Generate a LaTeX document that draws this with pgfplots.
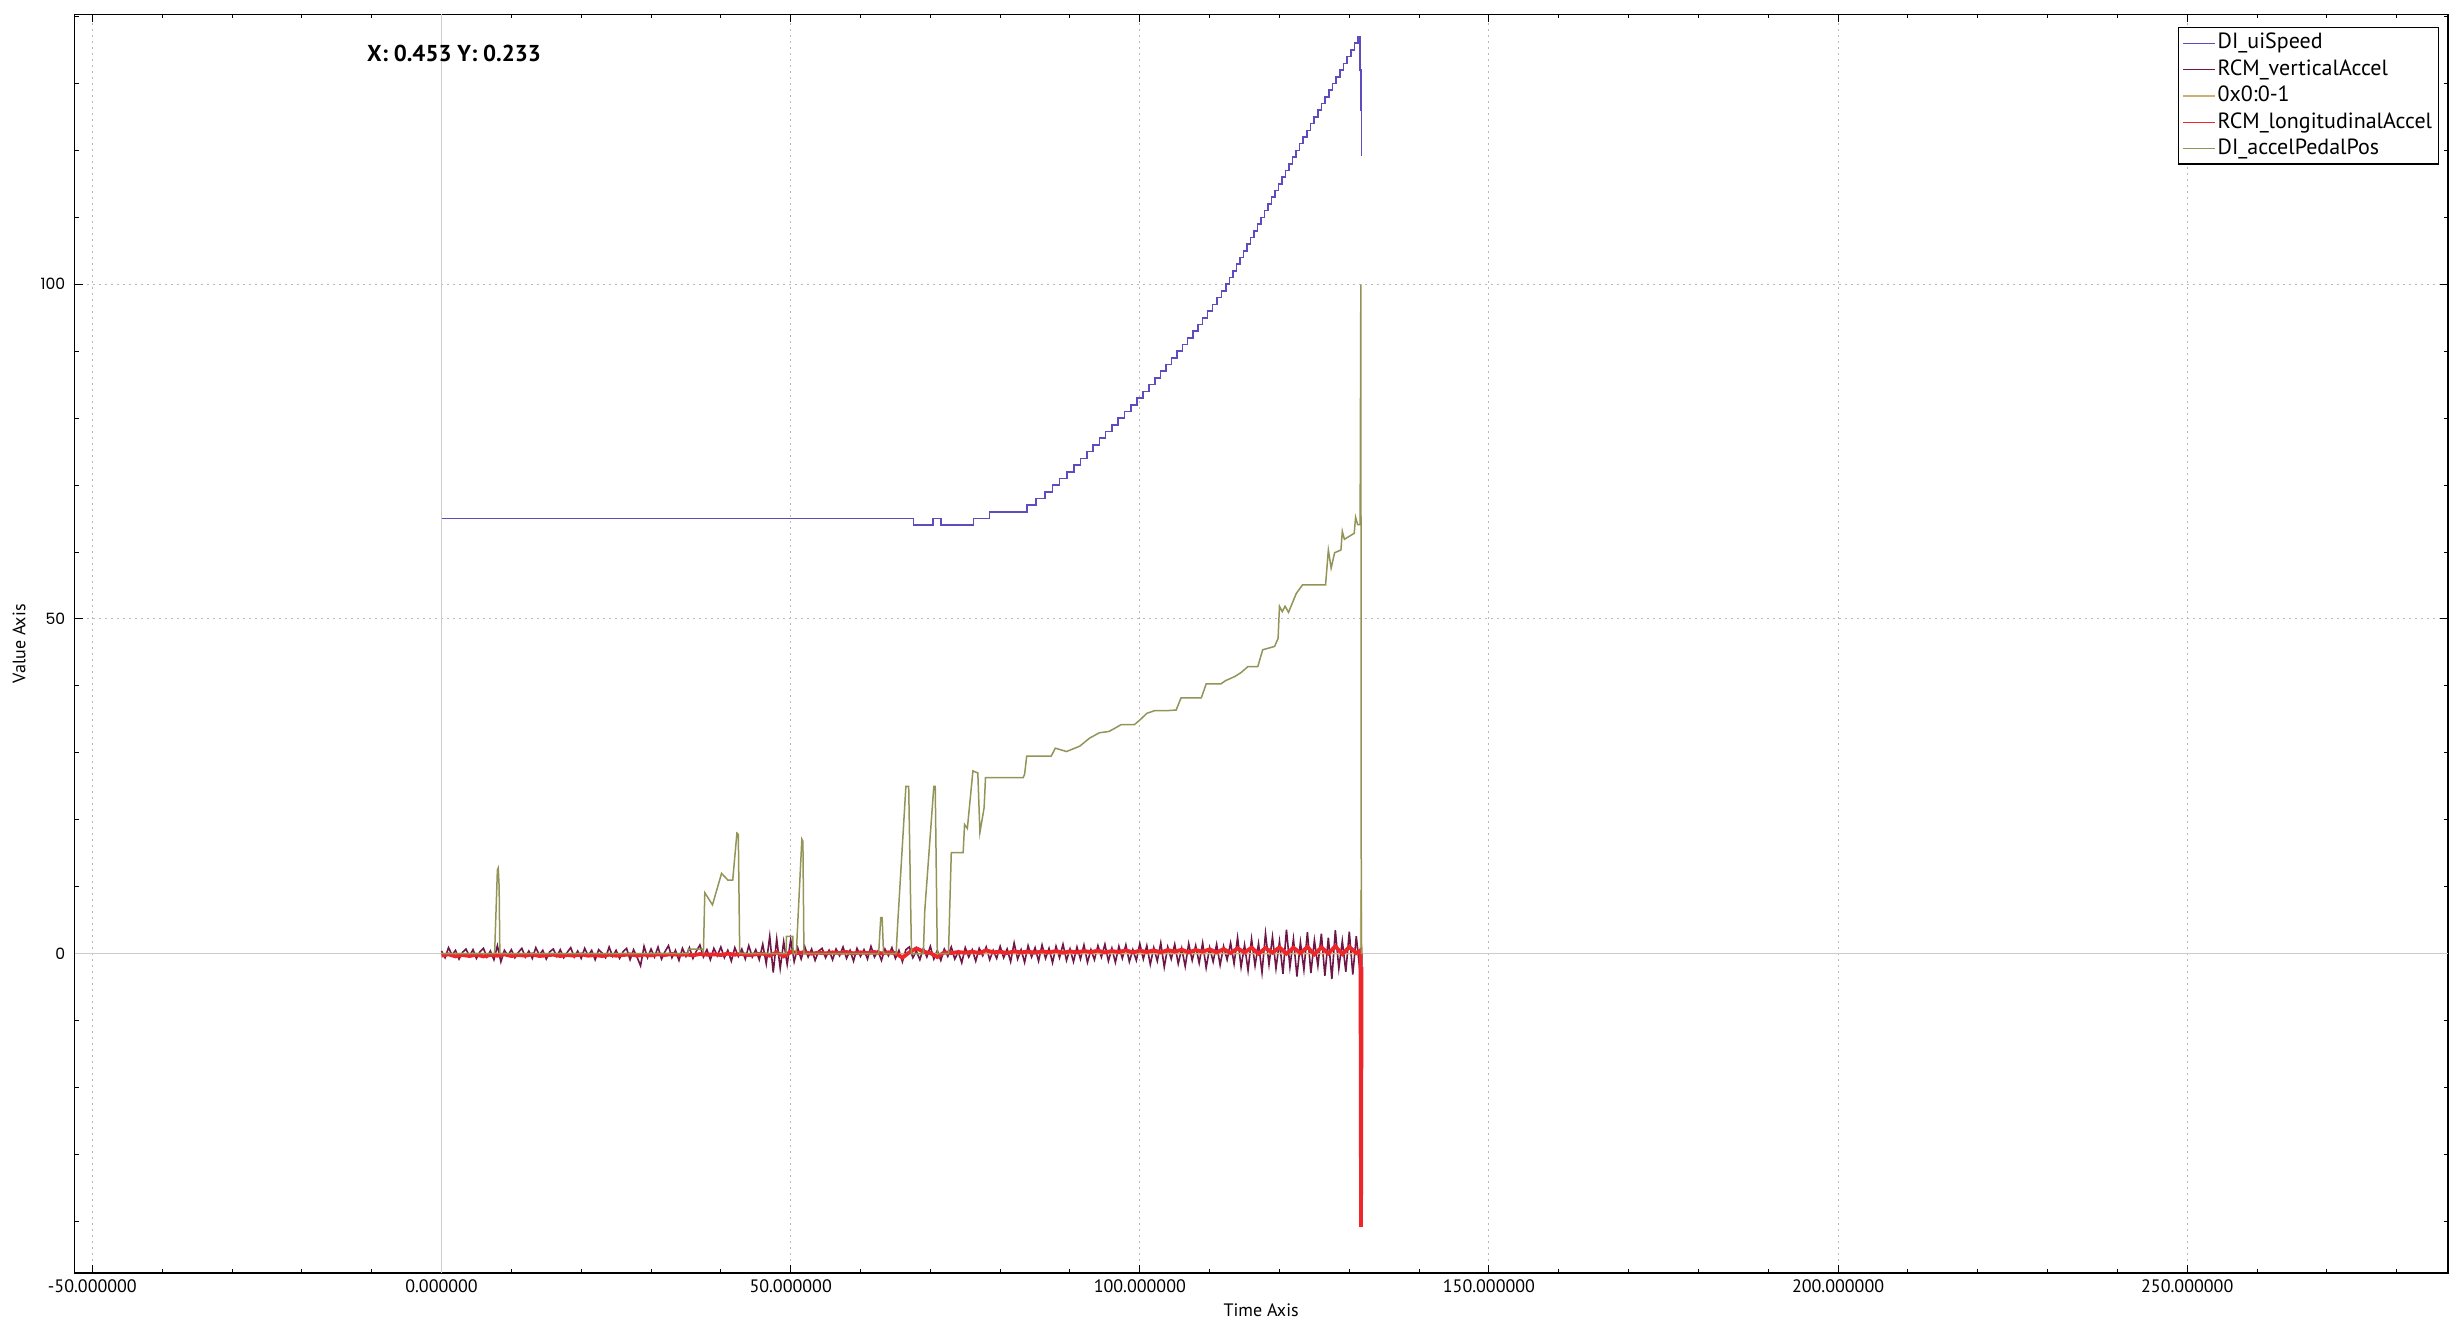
\documentclass[border=0pt]{standalone}
\usepackage{fontspec}
\setmainfont{PT Sans}
\newfontfamily\ytickfont{Poppins}
\usepackage{pgfplots}
\pgfplotsset{compat=1.18}

\definecolor{cSpeed}{RGB}{92,76,192}
\definecolor{cVert}{RGB}{110,22,72}
\definecolor{cBit}{RGB}{200,180,110}
\definecolor{cLong}{RGB}{238,38,42}
\definecolor{cPedal}{RGB}{146,148,88}

\begin{document}
\begin{tikzpicture}
\begin{axis}[
  scale only axis,
  width=1186.55pt, height=629.25pt,
  xmin=-52.55, xmax=287.3,
  ymin=-47.7, ymax=140.3,
  axis line style={line width=0.8pt},
  tick align=inside,
  major tick length=4pt, minor tick length=2pt,
  tick style={black, line width=0.5pt},
  xtick={-50,0,50,100,150,200,250},
  xticklabels={-50.000000,0.000000,50.000000,100.000000,150.000000,200.000000,250.000000},
  minor xtick={-50,-40,...,280},
  ytick={0,50,100},
  yticklabels={0,50,100},
  minor ytick={-40,-30,...,140},
  xticklabel style={font=\fontsize{9}{10}\selectfont, inner sep=0pt, anchor=north},
  xticklabel shift=3.3pt,
  yticklabel style={font=\ytickfont\fontsize{7.8}{9}\selectfont, inner sep=0pt, anchor=east},
  yticklabel shift=4.5pt,
  grid=major,
  major grid style={draw=gray!55, line width=0.5pt, dash pattern=on 1pt off 2pt},
  extra x ticks={0}, extra x tick labels={},
  extra y ticks={0}, extra y tick labels={},
  extra tick style={major tick length=0pt, major grid style={solid, draw=gray!40, line width=0.6pt}},
  xlabel={Time Axis}, ylabel={Value Axis},
  every axis x label/.style={at={(axis description cs:0.5,-0.02988)}, anchor=center, font=\fontsize{9}{10}\selectfont},
  every axis y label/.style={at={(axis description cs:-0.02343,0.5)}, rotate=90, anchor=center, font=\fontsize{9}{10}\selectfont},
  legend image code/.code={\draw[#1, line width=0.6pt] (0pt,0pt) -- (16pt,0pt);},
  legend style={at={(axis description cs:0.99621,0.98983)}, anchor=north east,
    draw=black, line width=0.6pt, inner xsep=2pt, inner ysep=1pt,
    font=\fontsize{11}{12}\selectfont,
    nodes={inner sep=1pt, text height=8.5pt, text depth=2.7pt},
    cells={anchor=west}, row sep=0pt},
  legend cell align=left,
]

\addplot[const plot, color=cSpeed, line width=0.8pt] coordinates {
(0,65)(67.6,64)(70.4,65)(71.5,64)(76.2,65)(78.5,66)(83.8,67)(85.1,68)(86.4,69)(87.5,70)
(88.5,71)(89.6,72)(90.6,73)(91.5,74)(92.4,75)(93.3,76)(94.2,77)(95.1,78)(96.0,79)(96.9,80)
(97.8,81)(98.7,82)(99.6,83)(100.45,84)(101.3,85)(102.15,86)(102.95,87)(103.75,88)(104.55,89)(105.35,90)
(106.1,91)(106.85,92)(107.6,93)(108.3,94)(109.0,95)(109.7,96)(110.4,97)(111.05,98)(111.7,99)(112.35,100)
(112.85,101)(113.35,102)(113.85,103)(114.35,104)(114.85,105)(115.35,106)(115.85,107)(116.35,108)(116.85,109)(117.35,110)
(117.85,111)(118.35,112)(118.85,113)(119.35,114)(119.85,115)(120.35,116)(120.85,117)(121.35,118)(121.85,119)(122.35,120)
(122.85,121)(123.4,122)(123.9,123)(124.45,124)(124.95,125)(125.5,126)(126.0,127)(126.55,128)(127.05,129)(127.6,130)
(128.1,131)(128.65,132)(129.15,133)(129.7,134)(130.2,135)(130.75,136)(131.25,137)(131.55,132)(131.65,126)(131.75,119.2)
};

\addplot[color=cVert, line width=0.8pt] coordinates {
(0,0.4)(0.5,-0.6)(1,0.9)(1.5,-0.2)(2,0.5)(2.5,-0.8)(3,0.2)(3.5,0.7)(4,-0.4)(4.5,0.6)
(5,-0.7)(5.5,0.3)(6,0.8)(6.5,-0.5)(7,0.4)(7.5,-0.9)(8,1.2)(8.5,-1.2)(9,0.5)(9.5,-0.3)
(10,0.6)(10.5,-0.6)(11,0.2)(11.5,0.8)(12,-0.5)(12.5,0.4)(13,-0.7)(13.5,0.9)(14,-0.2)(14.5,0.5)
(15,-0.8)(15.5,0.3)(16,0.7)(16.5,-0.4)(17,0.6)(17.5,-0.6)(18,0.2)(18.5,0.9)(19,-0.5)(19.5,0.4)
(20,-0.7)(20.5,0.8)(21,-0.3)(21.5,0.5)(22,-0.9)(22.5,0.6)(23,0.1)(23.5,-0.6)(24,1.0)(24.5,-0.4)
(25,0.5)(25.5,-0.7)(26,0.3)(26.5,0.8)(27,-0.9)(27.5,0.6)(28,-0.5)(28.5,-1.8)(29,1.1)(29.5,-0.6)
(30,0.7)(30.5,-0.5)(31,1.0)(31.5,-0.8)(32,0.3)(32.5,1.2)(33,-0.6)(33.5,0.5)(34,-1.0)(34.5,0.8)
(35,-0.4)(35.5,0.9)(36,-0.7)(36.5,0.4)(37,1.3)(37.5,-0.5)(38,0.6)(38.5,-0.9)(39,0.8)(39.5,-0.3)
(40,1.0)(40.5,-0.6)(41,0.5)(41.5,-1.1)(42,0.9)(42.5,-0.4)(43,0.7)(43.5,-0.8)(44,1.2)(44.5,-0.5)
(45,0.6)(45.5,-0.9)(46,1.4)(46.5,-1.5)(47,2.6)(47.5,-2.8)(48,2.2)(48.5,-2.2)(49,1.8)(49.5,-1.6)
(50,2.1)(50.5,-1.2)(51,0.9)(51.5,-0.8)(52,1.1)(52.5,-0.5)(53,0.7)(53.5,-1.0)(54,0.4)(54.5,0.8)
(55,-0.6)(55.5,0.5)(56,-0.9)(56.5,0.7)(57,-0.3)(57.5,1.0)(58,-0.7)(58.5,0.5)(59,-1.1)(59.5,0.8)
(60,-0.4)(60.5,0.6)(61,-0.8)(61.5,1.1)(62,-0.5)(62.5,0.4)(63,-1.0)(63.5,0.7)(64,-0.3)(64.5,0.9)
(65,-0.7)(65.5,0.5)(66,-1.2)(66.5,0.6)(67,1.0)(67.5,-0.6)(68,0.4)(68.5,-0.9)(69,0.8)(69.5,-0.5)
(70,1.1)(70.5,-0.8)(71,0.5)(71.5,-1.0)(72,0.7)(72.5,-0.4)(73,1.0)(73.5,-0.8)(74,0.3)(74.5,-1.35)
(75,0.9)(75.5,-0.5)(76,0.6)(76.5,-1.1)(77,0.8)(77.5,-0.3)(78,1.0)(78.5,-0.9)(79,0.5)(79.5,-0.7)
(80,1.1)(80.5,-0.6)(81,0.7)(81.5,-1.2)(82,1.6)(82.5,-0.8)(83,0.6)(83.5,-1.3)(84,1.2)(84.5,-0.5)
(85,0.9)(85.5,-1.1)(86,1.3)(86.5,-0.7)(87,0.8)(87.5,-1.35)(88,1.1)(88.5,-0.6)(89,1.4)(89.5,-1.0)
(90,0.7)(90.5,-1.2)(91,1.0)(91.5,-0.8)(92,1.3)(92.5,-1.3)(93,0.6)(93.5,-0.9)(94,1.2)(94.5,-0.5)
(95,1.4)(95.5,-1.1)(96,0.8)(96.5,-1.3)(97,1.1)(97.5,-0.7)(98,1.3)(98.5,-1.2)(99,0.6)(99.5,-1.0)
(100,1.5)(100.5,-0.8)(101,1.2)(101.5,-1.6)(102,0.9)(102.5,-1.1)(103,1.6)(103.5,-2.0)(104,1.0)(104.5,-0.8)
(105,1.4)(105.5,-1.5)(106,0.8)(106.5,-1.9)(107,1.5)(107.5,-1.0)(108,1.2)(108.5,-1.4)(109,1.6)(109.5,-2.1)
(110,0.9)(110.5,-1.2)(111,1.4)(111.5,-1.7)(112,1.1)(112.5,-0.9)(113,1.6)(113.5,-1.5)(114,2.4)(114.5,-2.0)
(115,1.3)(115.5,-2.5)(116,2.2)(116.5,-1.8)(117,1.5)(117.5,-2.8)(118,3.0)(118.5,-1.6)(119,2.5)(119.5,-2.2)
(120,1.8)(120.5,-3.0)(121,3.6)(121.5,-2.0)(122,2.2)(122.5,-3.4)(123,1.7)(123.5,-2.4)(124,3.2)(124.5,-2.9)
(125,2.0)(125.5,-1.8)(126,3.0)(126.5,-3.3)(127,2.4)(127.5,-3.8)(128,3.5)(128.5,-2.2)(129,1.9)(129.5,-2.7)
(130,3.3)(130.5,-3.1)(131,2.6)(131.5,-2.4)(131.6,0.4)(131.7,-19.3)(131.75,-6)(131.8,0)
};

\addplot[color=cBit, line width=0.8pt] coordinates {
(0,0)(131.6,0)(131.68,9.5)(131.75,0)
};

\addplot[color=cLong, line width=1.9pt] coordinates {
(0,-0.3)(1,-0.1)(2,-0.4)(3,-0.2)(4,-0.35)(5,-0.15)(6,-0.4)(7,-0.2)(8,-0.3)(9,-0.1)
(10,-0.35)(11,-0.2)(12,-0.3)(13,-0.1)(14,-0.35)(15,-0.25)(16,-0.15)(17,-0.35)(18,-0.2)(19,-0.3)
(20,-0.1)(21,-0.3)(22,-0.2)(23,-0.35)(24,-0.15)(25,-0.3)(26,-0.2)(27,-0.1)(28,-0.3)(29,-0.15)
(30,-0.25)(31,-0.1)(32,-0.2)(33,-0.05)(34,-0.2)(35,-0.1)(36,-0.25)(37,-0.05)(38,-0.15)(39,-0.1)
(40,-0.2)(41,0.0)(42,-0.15)(43,-0.05)(44,-0.2)(45,-0.1)(46,0.0)(47,-0.3)(48,0.2)(49,-0.4)
(50,0.3)(51,0.1)(52,0.2)(53,0.0)(54,0.15)(55,0.05)(56,0.2)(57,0.1)(58,0.25)(59,0.05)
(60,0.2)(61,0.1)(62,0.25)(63,0.05)(64,0.2)(65,0.1)(66,-0.6)(67,0.2)(68,0.8)(69,0.3)
(70,0.1)(71,-0.5)(72,0.2)(73,0.1)(74,0.25)(75,0.15)(76,0.3)(77,0.1)(78,0.5)(79,0.2)
(80,0.3)(81,0.1)(82,0.35)(83,0.2)(84,0.3)(85,0.15)(86,0.35)(87,0.2)(88,0.4)(89,0.15)
(90,0.35)(91,0.2)(92,0.4)(93,0.25)(94,0.45)(95,0.2)(96,0.4)(97,0.25)(98,0.5)(99,0.2)
(100,0.45)(101,0.25)(102,0.5)(103,0.2)(104,0.55)(105,0.3)(106,0.6)(107,0.2)(108,0.55)(109,0.3)
(110,0.65)(111,0.2)(112,0.7)(113,0.1)(114,0.8)(115,0.2)(116,0.9)(117,0.0)(118,0.85)(119,0.15)
(120,0.95)(121,0.0)(122,0.9)(123,0.1)(124,1.0)(125,-0.1)(126,0.95)(127,0.05)(128,1.1)(129,-0.05)
(130,1.0)(131,0.1)(131.6,0.5)(131.68,-40.8)(131.72,-19)(131.76,-2)
};

\addplot[color=cPedal, line width=0.75pt] coordinates {
(0,0)(7.6,0)(8.0,12.5)(8.12,12.8)(8.25,10)(8.35,0)(35.3,0)(35.35,0.7)(37.45,0.7)(37.5,0)
(37.7,9.1)(38.8,7.3)(40.1,12.0)(41.0,11.0)(41.7,11.0)(42.3,18.0)(42.5,17.8)(42.7,0)(49.35,0)(49.4,2.6)
(50.3,2.6)(50.35,0)(50.8,0)(51.6,17.1)(51.75,16.8)(51.9,0)(62.6,0)(62.9,5.4)(63.1,5.4)(63.3,0)
(65.1,0)(65.3,4)(66.5,25.0)(66.9,25.0)(67.3,0)(69.0,0)(69.2,6.4)(70.5,25.0)(70.7,25.0)(71.0,0)
(72.6,0)(73.0,15.1)(74.7,15.1)(74.9,19.3)(75.3,18.7)(76.1,27.3)(76.8,27.0)(77.1,18.1)(77.7,21.8)(77.9,26.3)
(83.3,26.3)(83.5,26.8)(83.8,29.5)(87.3,29.5)(87.9,30.7)(89.5,30.2)(91.4,31.0)(92.8,32.2)(94.2,33.0)(95.6,33.2)
(97.3,34.2)(99.2,34.2)(100.0,34.9)(101.0,35.9)(102.1,36.3)(103.8,36.3)(105.2,36.4)(105.9,38.2)(108.8,38.2)(109.5,40.3)
(111.6,40.3)(112.3,40.8)(113.6,41.4)(114.5,42.0)(115.5,42.9)(116.9,42.9)(117.6,45.4)(119.3,45.9)(119.8,47.1)(120.0,51.9)
(120.4,51.1)(120.8,51.9)(121.3,51.0)(122.4,53.8)(123.3,55.1)(126.6,55.1)(127.0,60.3)(127.4,57.6)(127.9,59.9)(128.8,60.3)
(129.0,63.1)(129.3,61.9)(130.7,62.8)(130.9,65.2)(131.2,64.1)(131.55,64.1)(131.65,100)(131.72,0)(131.8,0)
};

\legend{DI\_uiSpeed, RCM\_verticalAccel, 0x0:0-1, RCM\_longitudinalAccel, DI\_accelPedalPos}

\node[font=\bfseries\fontsize{11.5}{13}\selectfont] at (axis description cs:0.1599,0.9691) {X: 0.453 Y: 0.233};
\end{axis}
\pgfresetboundingbox
\path[use as bounding box] (-37.3pt,-28.5pt) rectangle (1194.7pt,636.5pt);
\end{tikzpicture}
\end{document}
